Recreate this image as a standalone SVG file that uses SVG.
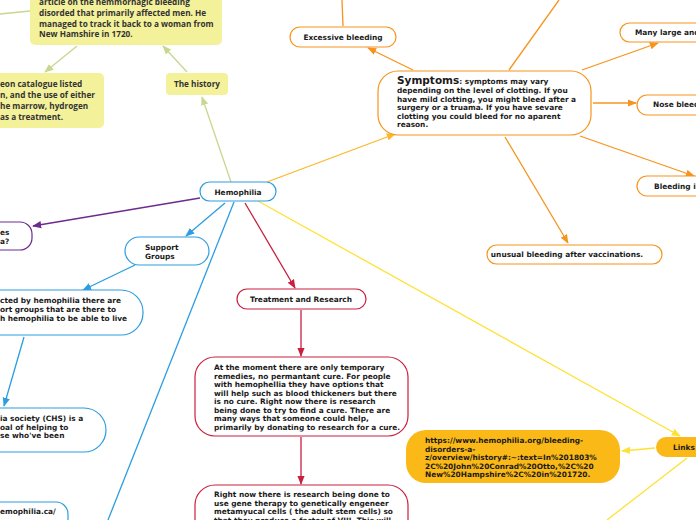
<svg xmlns="http://www.w3.org/2000/svg" width="696" height="520" viewBox="0 0 696 520">
<defs>
<style>
.t{font-family:"DejaVu Sans",Verdana,sans-serif;font-weight:bold;font-size:7.4px;fill:#1a1a1a}
.h{font-family:"Open Sans","Liberation Sans",sans-serif;font-weight:bold;font-size:8.2px;fill:#333}
.c{text-anchor:middle}
.y{fill:#f3f199;stroke:none}
.o{fill:#fff;stroke:#f7941d;stroke-width:1.2}
.b{fill:#fff;stroke:#2c9de0;stroke-width:1.2}
.r{fill:#fff;stroke:#c8203f;stroke-width:1.2}
.p{fill:#fff;stroke:#6c2b8f;stroke-width:1.2}
.g{fill:#fbb917;stroke:none}
.l{fill:none;stroke-width:1.3}
</style>
<marker id="mg" viewBox="0 0 10 10" refX="9" refY="5" markerWidth="7" markerHeight="7" orient="auto"><path d="M0,1L10,5L0,9z" fill="#c7d78f"/></marker>
<marker id="mo" viewBox="0 0 10 10" refX="9" refY="5" markerWidth="7" markerHeight="7" orient="auto"><path d="M0,1L10,5L0,9z" fill="#f7941d"/></marker>
<marker id="my" viewBox="0 0 10 10" refX="9" refY="5" markerWidth="7" markerHeight="7" orient="auto"><path d="M0,1L10,5L0,9z" fill="#fbb829"/></marker>
<marker id="myl" viewBox="0 0 10 10" refX="9" refY="5" markerWidth="7" markerHeight="7" orient="auto"><path d="M0,1L10,5L0,9z" fill="#ffe135"/></marker>
<marker id="mb" viewBox="0 0 10 10" refX="9" refY="5" markerWidth="7" markerHeight="7" orient="auto"><path d="M0,1L10,5L0,9z" fill="#2c9de0"/></marker>
<marker id="mr" viewBox="0 0 10 10" refX="9" refY="5" markerWidth="7" markerHeight="7" orient="auto"><path d="M0,1L10,5L0,9z" fill="#c8203f"/></marker>
<marker id="mp" viewBox="0 0 10 10" refX="9" refY="5" markerWidth="7" markerHeight="7" orient="auto"><path d="M0,1L10,5L0,9z" fill="#6c2b8f"/></marker>
</defs>
<rect width="696" height="520" fill="#fff"/>
<g id="connectors">
<path class="l" stroke="#c7d78f" d="M0,14L30,11"/>
<path class="l" stroke="#c7d78f" d="M77,46L45,72" marker-end="url(#mg)"/>
<path class="l" stroke="#c7d78f" d="M187,72L163,46" marker-end="url(#mg)"/>
<path class="l" stroke="#c7d78f" d="M231,182L202,97" marker-end="url(#mg)"/>
<path class="l" stroke="#6c2b8f" d="M200,198L33,226" marker-end="url(#mp)"/>
<path class="l" stroke="#2c9de0" d="M225,203L186,236" marker-end="url(#mb)"/>
<path class="l" stroke="#2c9de0" d="M135,265L83,290" marker-end="url(#mb)"/>
<path class="l" stroke="#2c9de0" d="M24,337L4,406" marker-end="url(#mb)"/>
<path class="l" stroke="#2c9de0" d="M234,202L108,520"/>
<path class="l" stroke="#c8203f" d="M245,203L295,288" marker-end="url(#mr)"/>
<path class="l" stroke="#c8203f" d="M301,310L301,356" marker-end="url(#mr)"/>
<path class="l" stroke="#c8203f" d="M301,437L301,484" marker-end="url(#mr)"/>
<path class="l" stroke="#fbb829" d="M267,182L395,134" marker-end="url(#my)"/>
<path class="l" stroke="#f7941d" d="M413,70L368,48" marker-end="url(#mo)"/>
<path class="l" stroke="#f7941d" d="M343,26L342,0"/>
<path class="l" stroke="#f7941d" d="M509,70L559,0"/>
<path class="l" stroke="#f7941d" d="M582,70L658,43" marker-end="url(#mo)"/>
<path class="l" stroke="#f7941d" d="M593,103L636,103" marker-end="url(#mo)"/>
<path class="l" stroke="#f7941d" d="M580,136L694,176" marker-end="url(#mo)"/>
<path class="l" stroke="#f7941d" d="M505,137L568,243" marker-end="url(#mo)"/>
<path class="l" stroke="#ffe135" d="M258,201L680,436" marker-end="url(#myl)"/>
<path class="l" stroke="#ffe135" d="M655,448L622,451" marker-end="url(#myl)"/>
<path class="l" stroke="#ffe135" d="M687,458L607,520"/>
</g>
<g id="history-detail"><rect class="y" x="30" y="-10" width="192" height="55" rx="5"/>
<text class="h" x="39"><tspan x="39" y="5">article on the hemmorhagic bleeding</tspan><tspan x="39" y="16">disorded that primarily affected men. He</tspan><tspan x="39" y="26.5">managed to track it back to a woman from</tspan><tspan x="39" y="37">New Hamshire in 1720.</tspan></text></g>
<g id="history-treatment"><rect class="y" x="-10" y="73" width="114" height="55" rx="5"/>
<text class="h"><tspan x="0" y="87">eon catalogue listed</tspan><tspan x="0" y="98">n, and the use of either</tspan><tspan x="0" y="109">he marrow, hydrogen</tspan><tspan x="0" y="120">as a treatment.</tspan></text></g>
<g id="history"><rect class="y" x="166" y="73" width="62" height="22" rx="4"/><text class="h c" x="197" y="87">The history</text></g>
<g id="hemophilia"><rect class="b" x="200" y="182" width="76" height="19" rx="9.5"/><text class="t c" x="238" y="195">Hemophilia</text></g>
<g id="question"><rect class="p" x="-20" y="222" width="52" height="28" rx="12"/><text class="t"><tspan x="0" y="235">es</tspan><tspan x="0" y="244">a?</tspan></text></g>
<g id="support"><rect class="b" x="125" y="237" width="84" height="28" rx="14"/><text class="t"><tspan x="145" y="250">Support</tspan><tspan x="145" y="258.5">Groups</tspan></text></g>
<g id="support-text"><rect class="b" x="-30" y="290" width="173" height="45" rx="22"/><text class="t"><tspan x="0" y="303">cted by hemophilia there are</tspan><tspan x="0" y="312">ort groups that are there to</tspan><tspan x="0" y="320.5">h hemophilia to be able to live</tspan></text></g>
<g id="chs"><rect class="b" x="-30" y="408" width="136" height="44" rx="22"/><text class="t"><tspan x="0" y="421">ia society (CHS) is a</tspan><tspan x="0" y="429.5">oal of helping to</tspan><tspan x="0" y="438">se who've been</tspan></text></g>
<g id="hemo-ca"><rect class="b" x="-30" y="502" width="98" height="30" rx="12"/><text class="t" x="0" y="514">emophilia.ca/</text></g>
<g id="treatment"><rect class="r" x="237" y="289" width="129" height="20" rx="10"/><text class="t c" x="301" y="302">Treatment and Research</text></g>
<g id="remedies"><rect class="r" x="195" y="357" width="213" height="79" rx="20"/><text class="t"><tspan x="214" y="370">At the moment there are only temporary</tspan><tspan x="214" y="378.5">remedies, no permantant cure. For people</tspan><tspan x="214" y="387">with hemophellia they have options that</tspan><tspan x="214" y="395.5">will help such as blood thickeners but there</tspan><tspan x="214" y="404">is no cure. Right now there is research</tspan><tspan x="214" y="412.5">being done to try to find a cure. There are</tspan><tspan x="214" y="421">many ways that someone could help,</tspan><tspan x="214" y="429.5">primarily by donating to research for a cure.</tspan></text></g>
<g id="gene"><rect class="r" x="195" y="485" width="213" height="60" rx="20"/><text class="t"><tspan x="214" y="497">Right now there is research being done to</tspan><tspan x="214" y="505.5">use gene therapy to genetically engeneer</tspan><tspan x="214" y="514">metamyucal cells ( the adult stem cells) so</tspan><tspan x="214" y="522.5">that they produce a factor of VIII. This will</tspan></text></g>
<g id="symptoms"><rect class="o" x="378" y="71" width="213" height="64" rx="20"/><text class="t"><tspan x="397" y="84" font-size="10.5px">Symptoms</tspan><tspan>: symptoms may vary</tspan><tspan x="397" y="93">depending on the level of clotting. If you</tspan><tspan x="397" y="101.5">have mild clotting, you might bleed after a</tspan><tspan x="397" y="110">surgery or a truama. If you have sevare</tspan><tspan x="397" y="118.5">clotting you could bleed for no aparent</tspan><tspan x="397" y="127">reason.</tspan></text></g>
<g id="excessive"><rect class="o" x="290" y="27" width="106" height="20" rx="10"/><text class="t c" x="343" y="40">Excessive bleeding</text></g>
<g id="bruises"><rect class="o" x="620" y="23" width="100" height="19" rx="9.5"/><text class="t" x="635" y="35">Many large and</text></g>
<g id="nose"><rect class="o" x="637" y="95" width="80" height="20" rx="10"/><text class="t" x="653" y="107">Nose bleed</text></g>
<g id="bleeding-in"><rect class="o" x="637" y="176" width="80" height="20" rx="10"/><text class="t" x="654" y="189">Bleeding in</text></g>
<g id="unusual"><rect class="o" x="487" y="245" width="175" height="19" rx="9.5"/><text class="t c" x="567" y="257">unusual bleeding after vaccinations.</text></g>
<g id="links"><rect class="g" x="656" y="437" width="60" height="20" rx="10"/><text class="t" x="673" y="450">Links</text></g>
<g id="url"><rect class="g" x="406" y="430" width="214" height="53" rx="20"/><text class="t"><tspan x="425" y="443">https://www.hemophilia.org/bleeding-</tspan><tspan x="425" y="451.5">disorders-a-</tspan><tspan x="425" y="460">z/overview/history#:~:text=In%201803%</tspan><tspan x="425" y="468.5">2C%20John%20Conrad%20Otto,%2C%20</tspan><tspan x="425" y="477">New%20Hampshire%2C%20in%201720.</tspan></text></g>
</svg>
